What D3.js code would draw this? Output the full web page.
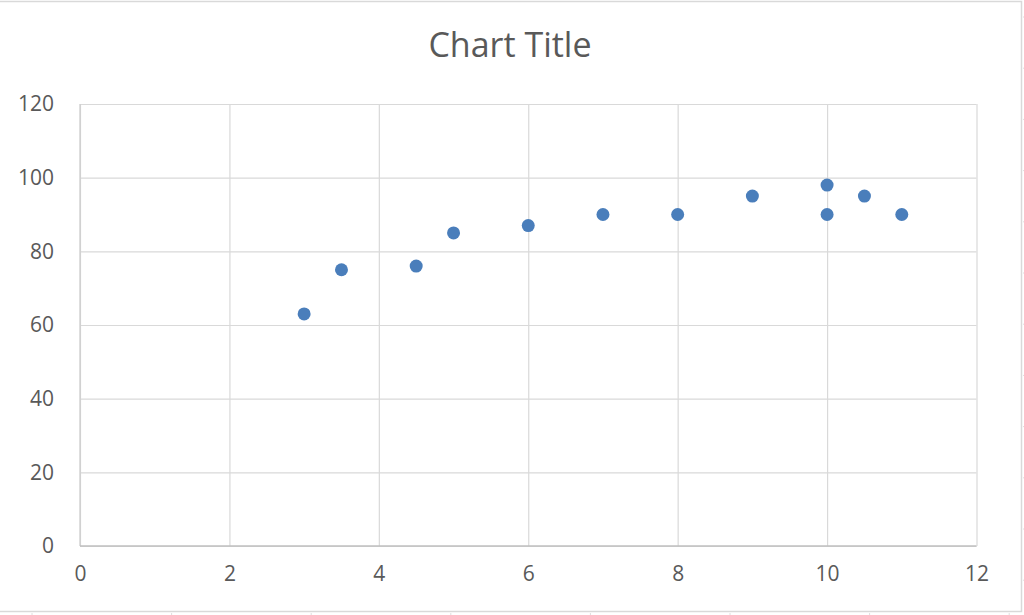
<!DOCTYPE html>
<html>
<head>
<meta charset="utf-8">
<script src="https://cdn.jsdelivr.net/npm/d3@7"></script>
<style>
  html, body { margin: 0; padding: 0; background: #fff; }
  svg { display: block; }
  text { font-family: "Open Sans", "DejaVu Sans", sans-serif; }
</style>
</head>
<body>
<svg id="chart" width="1024" height="615"></svg>
<script>
const chartTitle = "Chart Title";
const xValues = [3, 3.5, 4.5, 5, 6, 7, 8, 9, 10, 10, 10.5, 11];
const yValues = [63, 75, 76, 85, 87, 90, 90, 95, 98, 90, 95, 90];
const xTicks = [0, 2, 4, 6, 8, 10, 12];
const yTicks = [0, 20, 40, 60, 80, 100, 120];

const svg = d3.select("#chart");
const W = 1024, H = 615;
const plot = { left: 80, right: 976.5, top: 104, bottom: 546 };

const x = d3.scaleLinear().domain([0, 12]).range([plot.left, plot.right]);
const y = d3.scaleLinear().domain([0, 120]).range([plot.bottom, plot.top]);

// background spreadsheet cell grid fragments outside the chart frame
const bg = svg.append("g");
for (let cx = 32; cx < W; cx += 139.6) {
  bg.append("line").attr("x1", cx).attr("x2", cx).attr("y1", 613).attr("y2", H)
    .attr("stroke", "#dedede").attr("stroke-width", 1);
}
for (let cy = 17; cy < 612; cy += 51.2) {
  bg.append("line").attr("x1", 1023).attr("x2", W).attr("y1", cy).attr("y2", cy)
    .attr("stroke", "#dedede").attr("stroke-width", 1);
}

// chart frame
svg.append("path")
  .attr("d", `M0,1.5 H1021.5 V611.5 H0`)
  .attr("fill", "none").attr("stroke", "#d9d9d9").attr("stroke-width", 1.5);

// gridlines
const gridX = svg.append("g")
  .attr("transform", `translate(0,${plot.bottom})`)
  .call(d3.axisBottom(x).tickValues(xTicks).tickSize(-(plot.bottom - plot.top)).tickFormat(""));
gridX.select(".domain").remove();
gridX.selectAll("line").attr("stroke", "#d9d9d9").attr("stroke-width", 1.2);

const gridY = svg.append("g")
  .attr("transform", `translate(${plot.left},0)`)
  .call(d3.axisLeft(y).tickValues(yTicks).tickSize(-(plot.right - plot.left)).tickFormat(""));
gridY.select(".domain").remove();
gridY.selectAll("line").attr("stroke", "#d9d9d9").attr("stroke-width", 1.2);

// axis lines
svg.append("line")
  .attr("x1", plot.left).attr("x2", plot.left).attr("y1", plot.top).attr("y2", plot.bottom)
  .attr("stroke", "#cccccc").attr("stroke-width", 1.2);
svg.append("line")
  .attr("x1", plot.left).attr("x2", plot.right).attr("y1", plot.bottom).attr("y2", plot.bottom)
  .attr("stroke", "#bfbfbf").attr("stroke-width", 1.5);

// tick labels
const xAxis = svg.append("g")
  .attr("transform", `translate(0,${plot.bottom})`)
  .call(d3.axisBottom(x).tickValues(xTicks).tickSize(0).tickPadding(20).tickFormat(d3.format("d")));
xAxis.select(".domain").remove();
xAxis.selectAll("text")
  .attr("font-family", '"Open Sans", sans-serif')
  .attr("font-size", 21).attr("fill", "#595959");

const yAxis = svg.append("g")
  .attr("transform", `translate(${plot.left},0)`)
  .call(d3.axisLeft(y).tickValues(yTicks).tickSize(0).tickPadding(26).tickFormat(d3.format("d")));
yAxis.select(".domain").remove();
yAxis.selectAll("text")
  .attr("font-family", '"Open Sans", sans-serif')
  .attr("font-size", 21).attr("fill", "#595959");

// title
svg.append("text")
  .attr("x", 510).attr("y", 57)
  .attr("text-anchor", "middle")
  .attr("font-size", 34).attr("fill", "#595959")
  .text(chartTitle);

// points
const data = xValues.map((v, i) => ({ x: v, y: yValues[i] }));
svg.append("g").selectAll("circle")
  .data(data).join("circle")
  .attr("cx", d => x(d.x)).attr("cy", d => y(d.y))
  .attr("r", 6.5)
  .attr("fill", "#4a7ebb");
</script>
</body>
</html>
